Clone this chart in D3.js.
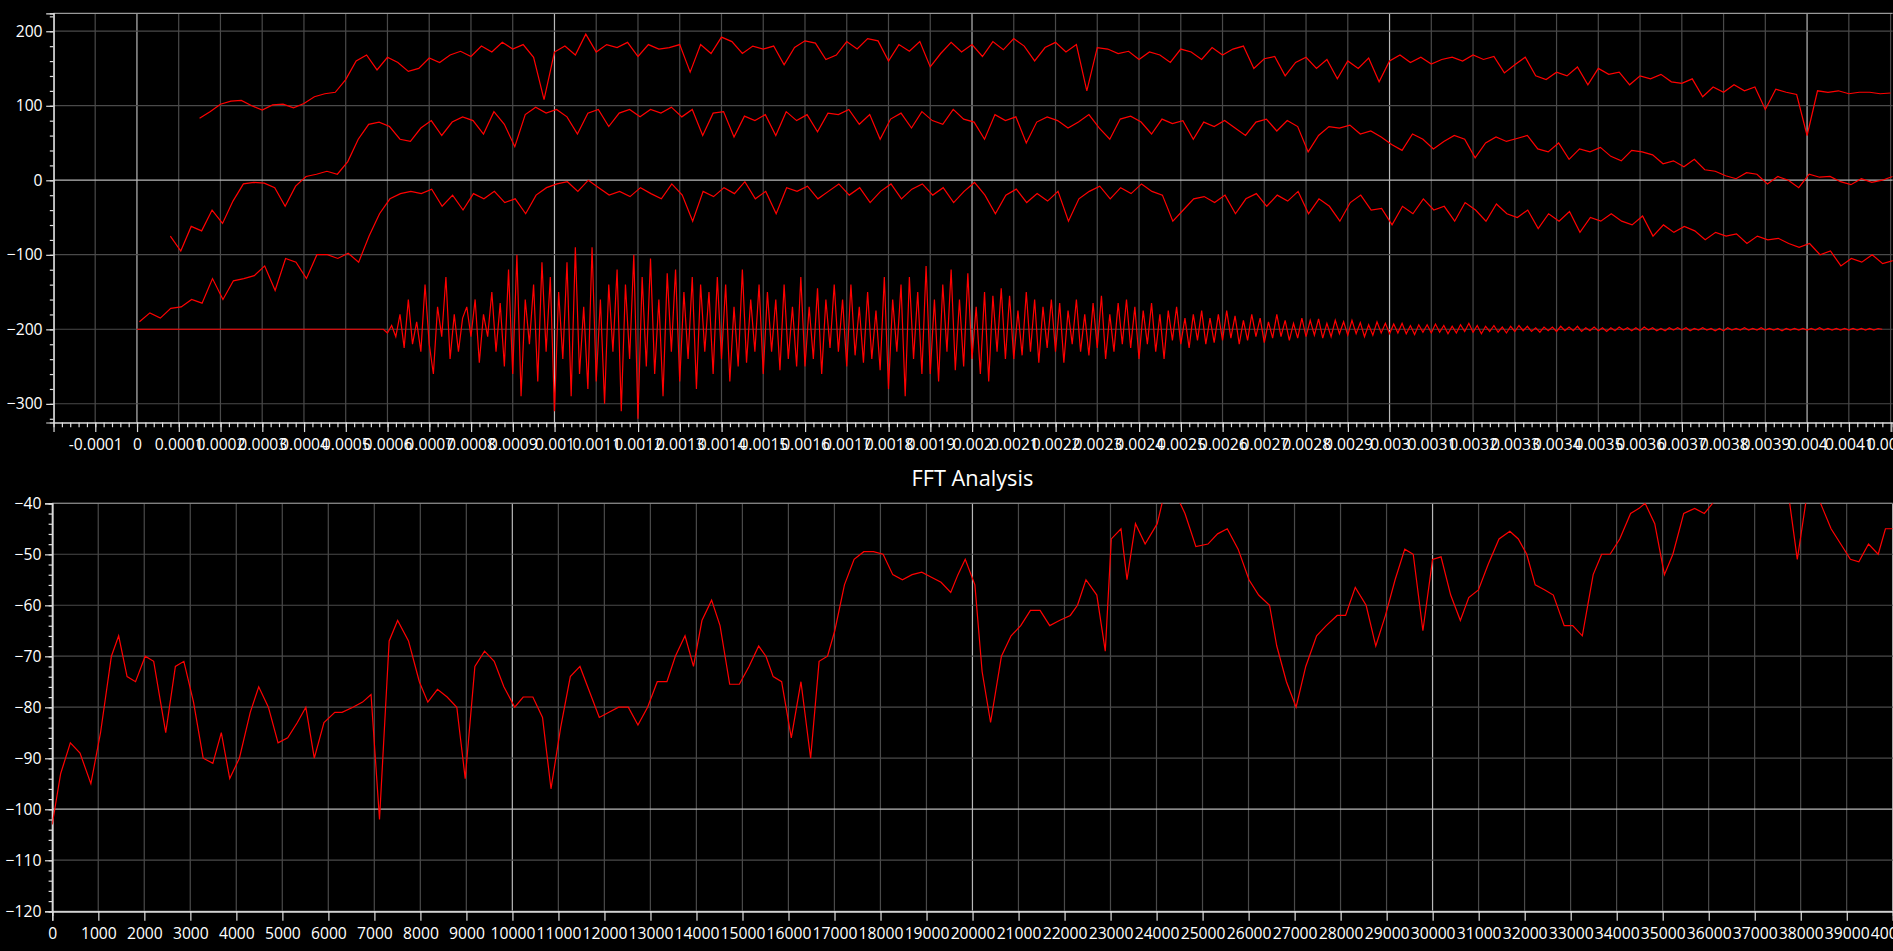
<!DOCTYPE html>
<html>
<head>
<meta charset="utf-8">
<script src="https://cdn.jsdelivr.net/npm/d3@7"></script>
<style>
  html, body { margin: 0; padding: 0; background: #000; overflow: hidden; }
  text { font-family: "Open Sans", "Noto Sans", sans-serif; }
</style>
</head>
<body>
<div id="chart"></div>
<script>
// ---- time domain data (4 signals) ----
const sig1Start = 0.00015, sig1Step = 0.000025;
const sig1 = [83,92,102,106,107,100,94,101,102,97,103,112,116,118,135,160,168,148,165,158,146,150,164,158,168,173,166,180,172,185,176,182,165,108,172,180,168,196,172,182,178,185,166,182,176,178,182,145,182,170,192,186,170,180,176,180,155,178,187,184,162,168,186,176,190,187,160,182,173,186,152,170,185,172,182,166,186,175,190,180,160,178,185,172,182,120,178,176,170,173,162,172,168,158,176,172,162,178,168,176,180,150,163,166,140,158,165,150,162,136,160,150,164,132,160,168,158,165,156,162,165,160,168,162,166,144,155,165,140,135,145,140,152,128,150,142,145,128,140,136,142,132,130,136,112,125,118,128,120,125,95,122,118,115,60,120,118,120,116,118,118,116,117];

const sig2Start = 0.00008, sig2Step = 0.000025;
const sig2 = [-75,-95,-62,-68,-40,-58,-28,-5,-3,-4,-10,-35,-8,5,8,12,8,25,55,75,78,72,55,52,70,80,60,78,85,80,62,92,75,45,88,98,90,95,85,62,90,95,72,90,95,85,95,90,98,85,95,60,90,92,58,86,80,88,60,92,80,88,65,90,88,95,75,88,55,82,90,70,92,80,75,95,82,78,55,88,80,85,50,78,85,80,70,78,88,70,55,82,86,78,62,82,76,80,55,78,72,80,70,60,78,82,66,80,72,38,60,72,70,74,62,66,58,48,40,62,55,42,52,60,55,30,50,58,52,56,60,42,38,50,28,42,38,44,32,26,40,38,34,22,26,18,28,14,12,6,2,10,8,-5,5,0,-10,8,4,5,-2,-6,2,-3,0,5];

const sig3Start = 0.000006, sig3Step = 0.000025;
const sig3 = [-190,-178,-185,-172,-170,-160,-165,-132,-160,-135,-132,-128,-115,-148,-105,-110,-132,-100,-100,-105,-98,-110,-75,-45,-25,-18,-15,-18,-12,-35,-20,-40,-18,-25,-15,-30,-25,-45,-20,-10,-5,-2,-15,0,-10,-20,-15,-22,-10,-18,-25,-5,-20,-55,-15,-22,-10,-18,-2,-25,-15,-45,-10,-15,-8,-25,-15,-5,-20,-10,-30,-15,-5,-25,-12,-5,-20,-10,-30,-15,-3,-20,-45,-20,-12,-30,-18,-28,-15,-55,-25,-15,-8,-25,-10,-18,-5,-15,-20,-55,-40,-25,-22,-30,-20,-45,-25,-18,-35,-20,-28,-15,-45,-25,-35,-55,-30,-20,-40,-38,-60,-35,-45,-25,-40,-35,-55,-30,-40,-55,-32,-45,-50,-40,-65,-45,-55,-42,-70,-50,-55,-45,-55,-60,-48,-75,-60,-70,-62,-68,-80,-70,-75,-72,-85,-75,-80,-78,-85,-90,-85,-100,-95,-115,-105,-110,-100,-112,-108];

const sig4Base = -200, sig4FlatFrom = 0;
const sig4Start = 0.00059, sig4Step = 0.00001;
const sig4Dev = [
  0,-5,5,-10,20,-25,40,-20,10,-30,
  60,-20,-60,30,-10,70,-40,20,-30,15,
  30,-10,40,-45,20,-10,50,-30,35,-50,
  80,-60,100,-90,40,-20,60,-70,90,-30,
  70,-110,50,-40,90,-90,110,-60,30,-80,
  110,-70,40,-100,60,-30,80,-110,60,-40,
  100,-120,70,-50,95,-60,40,-90,75,-30,
  80,-70,50,-40,70,-80,60,-30,50,-60,
  70,-40,60,-70,30,-50,80,-45,40,-30,
  60,-60,50,-30,40,-55,60,-40,30,-50,
  70,-50,30,-40,55,-60,40,-25,60,-30,
  40,-50,60,-35,30,-45,50,-40,25,-55,
  70,-80,40,-30,60,-90,70,-40,50,-60,
  85,-60,40,-70,60,-30,80,-55,40,-50,
  75,-40,30,-60,50,-70,45,-30,55,-40,
  45,-40,25,-35,50,-30,40,-45,30,-25,
  40,-30,35,-45,25,-20,40,-30,20,-35,
  35,-25,45,-40,20,-30,35,-20,40,-25,
  30,-40,25,-20,35,-30,20,-40,25,-15,
  30,-20,15,-25,20,-15,25,-20,15,-18,
  20,-15,25,-12,18,-20,12,-15,20,-10,
  15,-18,10,-12,20,-10,12,-15,8,-12,
  15,-10,12,-8,14,-12,8,-10,12,-6,
  10,-8,12,-6,9,-10,6,-8,10,-5,
  8,-6,7,-5,8,-6,5,-7,6,-4,
  6,-5,7,-4,5,-6,4,-5,6,-3,
  8,-4,5,-6,4,-3,5,-4,3,-5,
  4,-3,5,-2,4,-3,2,-4,3,-2,
  3,-3,4,-2,3,-2,4,-3,2,-2,
  3,-2,2,-3,2,-2,3,-1,2,-2,
  2,-2,3,-1,2,-2,1,-2,2,-1,
  2,-1,2,-2,1,-1,2,-1,1,-2,
  1,-2,2,-1,1,-1,2,-1,1,-1,
  2,-1,1,-1,1,-2,1,-1,1,-1,
  1,-1,1,-1,2,-1,1,-1,1,-1,
  1,-1,1,-1,1,-1,1,-1,1,0
];

// ---- FFT data ----
const fftFreq = [0,184,394,604,840,1050,1286,1444,1627,1811,2021,2205,2467,2677,2861,3071,3281,3491,3675,3858,4068,4304,4488,4698,4908,5118,5328,5512,5696,5906,6142,6299,6535,6745,6929,7113,7323,7507,7743,7979,8163,8373,8583,8793,8976,9186,9396,9606,9816,10052,10236,10446,10656,10840,11050,11260,11470,11680,11890,12100,12310,12520,12730,12940,13150,13360,13543,13753,13937,14121,14331,14514,14724,14934,15144,15354,15512,15669,15853,16063,16273,16483,16667,16850,17008,17218,17428,17638,17848,18058,18268,18478,18688,18898,19108,19318,19528,19685,19843,20053,20210,20394,20630,20840,21050,21260,21470,21680,21890,22126,22283,22467,22703,22887,23018,23228,23359,23543,23753,24016,24121,24357,24619,24856,25118,25328,25538,25774,26010,26220,26457,26614,26824,27034,27244,27480,27690,27927,28110,28320,28556,28766,28976,29186,29396,29580,29790,30000,30184,30394,30604,30787,30997,31207,31444,31680,31864,32047,32231,32441,32625,32861,33045,33255,33491,33675,33858,34068,34304,34488,34619,34829,35039,35223,35459,35696,35906,36089,36168,37717,37927,38110,38294,38478,38661,38871,39081,39265,39475,39685,39843,40000];
const fftDb = [-103,-93,-87,-89,-95,-85,-70,-66,-74,-75,-70,-71,-85,-72,-71,-79,-90,-91,-85,-94,-90,-81,-76,-80,-87,-86,-83,-80,-90,-83,-81,-81,-80,-79,-77.5,-102,-67,-63,-67,-75,-79,-76.5,-78,-80,-94,-72,-69,-71,-76,-80,-78,-78,-82,-96,-84,-74,-72,-77,-82,-81,-80,-80,-83.5,-80,-75,-75,-70,-66,-72,-63,-59,-64,-75.5,-75.5,-72,-68,-70,-74,-75,-86,-75,-90,-71,-70,-65,-56,-51,-49.5,-49.5,-50,-54,-55,-54,-53.5,-54.5,-55.5,-57.5,-54,-51,-56,-73,-83,-70,-66,-64,-61,-61,-64,-63,-62,-60,-55,-58,-69,-47,-45,-55,-44,-48,-44,-40,-37,-42,-48.5,-48,-46,-45,-49,-55,-58,-60,-68,-75,-80,-72,-66,-64,-62,-62,-56.5,-60,-68,-62,-55,-49,-50,-65,-51,-50.5,-58,-63,-58.5,-57,-52,-47,-45.5,-47,-50,-56,-57,-58,-64,-64,-66,-54,-50,-50,-47,-42,-41,-40,-44,-54,-50,-42,-41,-42,-40,-37,-37,-51,-40,-37,-41,-45,-48,-51,-51.5,-48,-50,-45,-45];

const timeTicks = d3.range(-1, 43).map(i => i / 10000);
const timeYTicks = [200, 100, 0, -100, -200, -300];
const fftXTicks = d3.range(0, 41).map(i => i * 1000);
const fftYTicks = [-40, -50, -60, -70, -80, -90, -100, -110, -120];

const W = 1568, H = 788;
const svg = d3.select("#chart").append("svg")
  .attr("width", 1893).attr("height", 951)
  .attr("viewBox", [0, 0, W, H]);
svg.append("rect").attr("width", W).attr("height", H).attr("fill", "#000");

const dim = "#4a4a4a", bright = "#b8b8b8", red = "#ff0000";

function panel(cfg) {
  const {top, bottom, left, right, x, y, xTicks, yTicks, xMinor, yMinor, xMajor, yMajor, xFmt, title, titleY, clipId} = cfg;
  const g = svg.append("g");
  // grid
  g.selectAll(".vg").data(xTicks).join("line")
    .attr("x1", d => x(d)).attr("x2", d => x(d)).attr("y1", top).attr("y2", bottom)
    .attr("stroke", d => xMajor(d) ? bright : dim).attr("stroke-width", 1);
  g.selectAll(".hg").data(yTicks).join("line")
    .attr("x1", left).attr("x2", right).attr("y1", d => y(d)).attr("y2", d => y(d))
    .attr("stroke", d => yMajor(d) ? bright : dim).attr("stroke-width", 1);
  g.append("line").attr("x1", left).attr("x2", right).attr("y1", top).attr("y2", top)
    .attr("stroke", "#999");
  // axes
  const ax = g.append("g").attr("transform", `translate(0,${bottom})`)
    .call(d3.axisBottom(x).tickValues(xTicks).tickFormat(xFmt).tickSize(8).tickPadding(6));
  ax.append("g").call(d3.axisBottom(x).tickValues(xMinor).tickFormat("").tickSize(4));
  const ay = g.append("g").attr("transform", `translate(${left},0)`)
    .call(d3.axisLeft(y).tickValues(yTicks).tickSize(6).tickPadding(3));
  ay.append("g").call(d3.axisLeft(y).tickValues(yMinor).tickFormat("").tickSize(3));
  [ax, ay].forEach(a => {
    a.selectAll(".domain, line").attr("stroke", "#ddd");
    a.selectAll("text").attr("fill", "#fff").attr("font-size", 13)
      .attr("font-family", "'Open Sans', 'Noto Sans', sans-serif");
  });
  svg.append("text").attr("x", (left + right) / 2).attr("y", titleY)
    .attr("text-anchor", "middle").attr("fill", "#fff").attr("font-size", 18).text(title);
  svg.append("clipPath").attr("id", clipId).append("rect")
    .attr("x", left).attr("y", top).attr("width", right - left).attr("height", bottom - top);
  return svg.append("g").attr("clip-path", `url(#${clipId})`);
}

// ---- top: time analysis ----
const tx = d3.scaleLinear().domain([-0.0002, 0.004205]).range([44, 1568]);
const ty = d3.scaleLinear().domain([224, -325]).range([11, 350]);
const near = (a, b) => Math.abs(a - b) < 1e-9;
const topG = panel({
  top: 11, bottom: 350, left: 44, right: 1568, x: tx, y: ty,
  xTicks: timeTicks, yTicks: timeYTicks,
  xMinor: d3.range(-9, 211).map(i => i * 0.00002).filter(v => v >= -0.0002 && v <= 0.0042),
  yMinor: d3.range(-16, 12).map(i => i * 20),
  xMajor: d => [0, 0.001, 0.002, 0.003, 0.004].some(v => near(v, d)),
  yMajor: d => d === 0,
  xFmt: d => String(+d.toFixed(4)),
  title: "Time Analysis", titleY: -4, clipId: "clipTop"
});
const tline = d3.line().x(d => tx(d[0])).y(d => ty(d[1]));
const toPts = (vals, start, step) => vals.map((v, i) => [start + i * step, v]);
const sig4Pts = [[sig4FlatFrom, sig4Base]].concat(toPts(sig4Dev.map(v => sig4Base + v), sig4Start, sig4Step));
[toPts(sig1, sig1Start, sig1Step), toPts(sig2, sig2Start, sig2Step), toPts(sig3, sig3Start, sig3Step), sig4Pts]
  .forEach(pts => topG.append("path").attr("d", tline(pts))
    .attr("fill", "none").attr("stroke", red).attr("stroke-width", 1));

// ---- bottom: FFT ----
const fx = d3.scaleLinear().domain([0, 40000]).range([43, 1568]);
const fy = d3.scaleLinear().domain([-40, -120]).range([417, 755]);
const botG = panel({
  top: 417, bottom: 755, left: 43, right: 1568, x: fx, y: fy,
  xTicks: fftXTicks, yTicks: fftYTicks,
  xMinor: [], yMinor: d3.range(-120, -38, 2),
  xMajor: d => d % 10000 === 0,
  yMajor: d => d === -100,
  xFmt: d => String(d),
  title: "FFT Analysis", titleY: 403, clipId: "clipBot"
});
const fline = d3.line().x((d, i) => fx(fftFreq[i])).y(d => fy(d));
botG.append("path").attr("d", fline(fftDb))
  .attr("fill", "none").attr("stroke", red).attr("stroke-width", 1);
</script>
</body>
</html>
